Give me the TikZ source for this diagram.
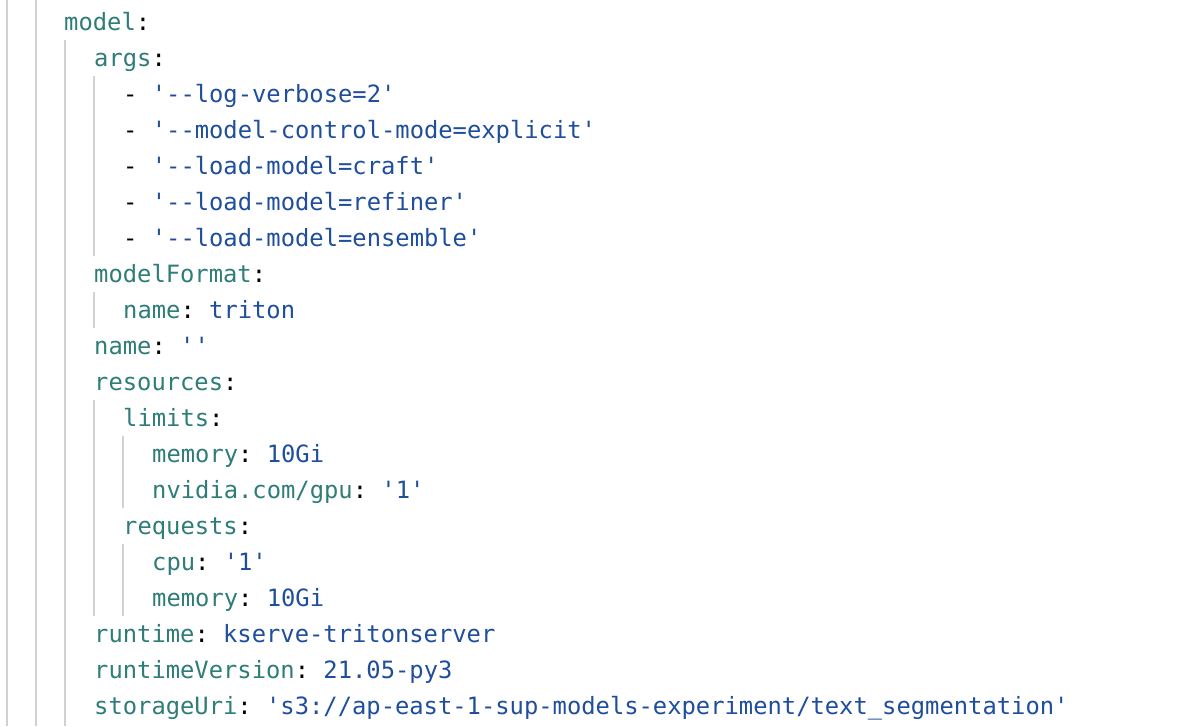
\documentclass[tikz,border=0pt]{standalone}
\usepackage{fontspec}
\setmonofont{DejaVu Sans Mono}
\begin{document}
\begin{tikzpicture}[x=1pt,y=-1pt,
  ln/.style={anchor=base west,inner sep=0pt,font=\ttfamily\fontsize{23.8}{28}\selectfont},
  guide/.style={draw=black!18,line width=2pt}]
\definecolor{kc}{HTML}{2E7D78}
\definecolor{vc}{HTML}{1F4E9C}
\useasboundingbox[fill=white] (0,0) rectangle (1200,726);
\newcommand{\K}[1]{\textcolor{kc}{#1}}
\newcommand{\V}[1]{\textcolor{vc}{#1}}
\draw[guide] (7,0) -- (7,726);
\draw[guide] (36,0) -- (36,726);
\draw[guide] (65,40) -- (65,726);
\draw[guide] (94,76) -- (94,256);
\draw[guide] (94,292) -- (94,328);
\draw[guide] (94,400) -- (94,616);
\draw[guide] (123,436) -- (123,508);
\draw[guide] (123,544) -- (123,616);
\def\cw{14.32}
\node[ln] (l0) at (64,30) {\K{model}:};
\node[ln] (l1) at (94,66) {\K{args}:};
\node[ln] (l2) at (123,102) {- \V{'--log-verbose=2'}};
\node[ln] (l3) at (123,138) {- \V{'--model-control-mode=explicit'}};
\node[ln] (l4) at (123,174) {- \V{'--load-model=craft'}};
\node[ln] (l5) at (123,210) {- \V{'--load-model=refiner'}};
\node[ln] (l6) at (123,246) {- \V{'--load-model=ensemble'}};
\node[ln] (l7) at (94,282) {\K{modelFormat}:};
\node[ln] (l8) at (123,318) {\K{name}: \V{triton}};
\node[ln] (l9) at (94,354) {\K{name}: \V{''}};
\node[ln] (l10) at (94,390) {\K{resources}:};
\node[ln] (l11) at (123,426) {\K{limits}:};
\node[ln] (l12) at (152,462) {\K{memory}: \V{10Gi}};
\node[ln] (l13) at (152,498) {\K{nvidia.com/gpu}: \V{'1'}};
\node[ln] (l14) at (123,534) {\K{requests}:};
\node[ln] (l15) at (152,570) {\K{cpu}: \V{'1'}};
\node[ln] (l16) at (152,606) {\K{memory}: \V{10Gi}};
\node[ln] (l17) at (94,642) {\K{runtime}: \V{kserve-tritonserver}};
\node[ln] (l18) at (94,678) {\K{runtimeVersion}: \V{21.05-py3}};
\node[ln] (l19) at (94,714) {\K{storageUri}: \V{'s3://ap-east-1-sup-models-experiment/text\_segmentation'}};
\end{tikzpicture}
\end{document}
